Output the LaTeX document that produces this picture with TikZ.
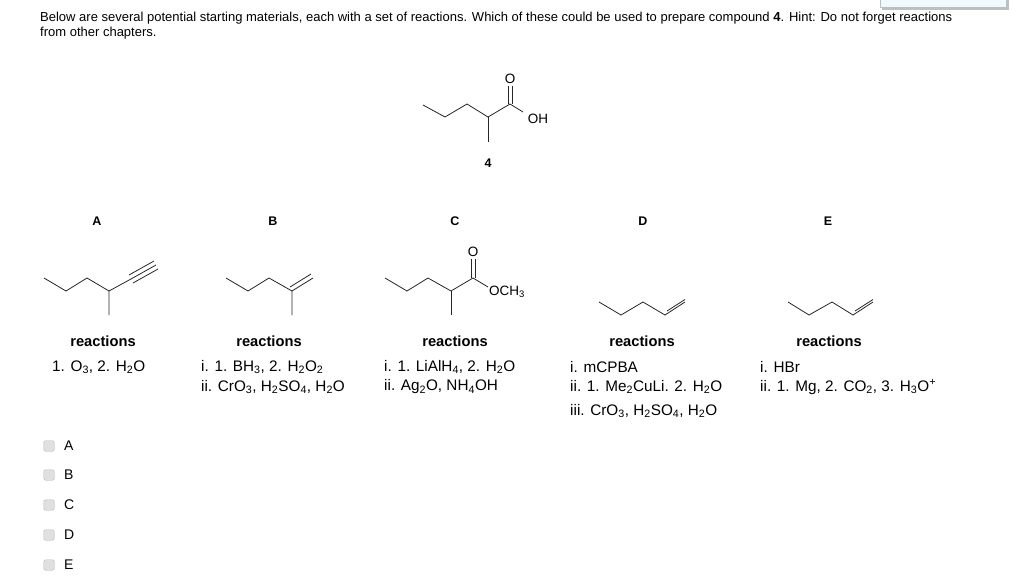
\documentclass[tikz,border=0pt]{standalone}
\usepackage{fontspec}
\setmainfont{Liberation Sans}
\begin{document}
\begin{tikzpicture}[x=1pt,y=-1pt,
  txt/.style={font=\fontsize{13}{15}\selectfont,inner sep=0,anchor=west},
  rtxt/.style={font=\fontsize{15.3}{17}\selectfont,inner sep=0,anchor=west},
  lab/.style={font=\fontsize{12.5}{14}\selectfont\bfseries,inner sep=0},
  atom/.style={font=\fontsize{13.5}{15}\selectfont,inner sep=0},
  bond/.style={line width=0.8pt,color=black!85},
  cbox/.style={draw=black!30,fill=black!12,rounded corners=2pt,minimum size=10.5pt,inner sep=0}]
\clip (0,0) rectangle (1024,587);
\fill[white] (0,0) rectangle (1024,587);
% top-right partial box
\fill[black!25] (882,-5) rectangle (1009,10);
\fill[cyan!6,draw=black!25] (880,-5) rectangle (1006,7);
% question
\node[txt] (q1) at (40,18) {Below are several potential starting materials, each with a set of reactions. Which of these could be used to prepare compound \textbf{4}. Hint: Do not forget reactions};
\node[txt] (q2) at (40,33) {from other chapters.};
% compound 4
\draw[bond] (423,105)--(445,117)--(467,104)--(488,117)--(510,104)--(523,112);
\draw[bond] (488,117)--(488,142);
\draw[bond] (508,104)--(508,86) (512,104)--(512,86);
\node[atom] (o4) at (510,79) {O};
\node[atom] (oh) at (538,119) {OH};
\node[lab] (n4) at (488,163) {4};
% labels
\foreach \x/\l in {97/A,273/B,455/C,643/D,828/E}{\node[lab] (L\l) at (\x,221) {\l};}
% A
\draw[bond] (44,278)--(66,291)--(87,278)--(109,291)--(109,315);
\draw[bond] (109,291)--(131,279);
\draw[bond] (131,279)--(156,265);
\draw[bond] (129,275)--(154,261) (133,283)--(158,269);
% B
\draw[bond] (226,278)--(248,291)--(269,278)--(292,291)--(292,315);
\draw[bond] (292,291)--(313,278) (290,287)--(311,274);
% C
\draw[bond] (385,278)--(407,291)--(428,278)--(451,291)--(473,278)--(488,287);
\draw[bond] (451,291)--(451,315);
\draw[bond] (471,278)--(471,259) (475,278)--(475,259);
\node[atom] (oc) at (473,252) {O};
\node[atom,anchor=west] (och3) at (489,292) {OCH\textsubscript{3}};
% D
\draw[bond] (599,302)--(621,315)--(643,302)--(665,315)--(685,302) (667,311)--(685,299.5);
% E
\draw[bond] (788,302)--(809,315)--(832,302)--(853,315)--(873,302) (855,311)--(873,299.5);
% reactions
\foreach \x/\l in {103/A,269/B,455/C,642/D,829/E}{\node[lab,font=\fontsize{14.7}{17}\selectfont\bfseries] (r\l) at (\x,341) {reactions};}
\node[rtxt] (a1) at (52,367) {1. O\textsubscript{3}, 2. H\textsubscript{2}O};
\node[rtxt] (b1) at (201,367) {i. 1. BH\textsubscript{3}, 2. H\textsubscript{2}O\textsubscript{2}};
\node[rtxt] (b2) at (201,387) {ii. CrO\textsubscript{3}, H\textsubscript{2}SO\textsubscript{4}, H\textsubscript{2}O};
\node[rtxt] (c1) at (384,367) {i. 1. LiAlH\textsubscript{4}, 2. H\textsubscript{2}O};
\node[rtxt] (c2) at (384,387) {ii. Ag\textsubscript{2}O, NH\textsubscript{4}OH};
\node[rtxt] (d1) at (570,367) {i. mCPBA};
\node[rtxt] (d2) at (570,387) {ii. 1. Me\textsubscript{2}CuLi. 2. H\textsubscript{2}O};
\node[rtxt] (d3) at (570,411) {iii. CrO\textsubscript{3}, H\textsubscript{2}SO\textsubscript{4}, H\textsubscript{2}O};
\node[rtxt] (e1) at (760,367) {i. HBr};
\node[rtxt] (e2) at (760,387) {ii. 1. Mg, 2. CO\textsubscript{2}, 3. H\textsubscript{3}O\textsuperscript{+}};
% choices
\foreach \y/\l in {446/A,475/B,505/C,535/D,565/E}{
  \node[cbox] (cb\l) at (49,\y) {};
  \node[txt,font=\fontsize{14}{16}\selectfont] (ct\l) at (64,\y) {\l};}
\end{tikzpicture}
\end{document}
